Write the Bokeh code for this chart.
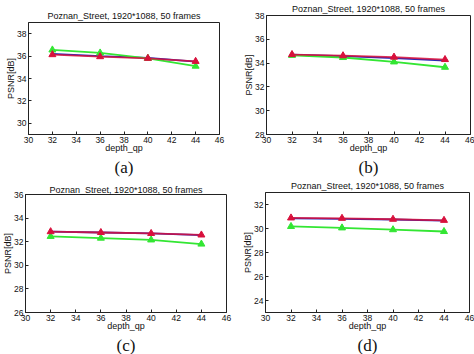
from bokeh.plotting import figure
from bokeh.layouts import column, row
from bokeh.models import FixedTicker, Range1d, Title
from bokeh.embed import file_html
from bokeh.resources import INLINE

depth_qp = [32, 36, 40, 44]
x_ticks = [30, 32, 34, 36, 38, 40, 42, 44, 46]

# panel (a)
a_blue = [36.2, 36.0, 35.85, 35.5]
a_red = [36.13, 35.95, 35.8, 35.53]
a_green = [36.55, 36.28, 35.8, 35.1]
# panel (b)
b_blue = [34.7, 34.58, 34.42, 34.2]
b_red = [34.72, 34.62, 34.5, 34.3]
b_green = [34.65, 34.47, 34.1, 33.65]
# panel (c)
c_blue = [32.85, 32.78, 32.7, 32.55]
c_red = [32.85, 32.78, 32.7, 32.57]
c_green = [32.45, 32.3, 32.15, 31.8]
# panel (d)
d_blue = [30.85, 30.8, 30.75, 30.65]
d_red = [30.88, 30.85, 30.77, 30.68]
d_green = [30.17, 30.05, 29.9, 29.75]

title_text = "Poznan_Street, 1920*1088, 50 frames"
panel_labels = ["(a)", "(b)", "(c)", "(d)"]
y_ranges = [(29, 39), (28, 38), (26, 36), (23, 33)]
y_tick_sets = [[30, 32, 34, 36, 38], [28, 30, 32, 34, 36, 38],
               [26, 28, 30, 32, 34, 36], [24, 26, 28, 30, 32]]
series = [(a_blue, a_red, a_green), (b_blue, b_red, b_green),
          (c_blue, c_red, c_green), (d_blue, d_red, d_green)]
borders = [(28, 18, 22, 43), (29, 4, 13, 43), (22, 11, 17, 40), (28, 5, 15, 40)]
title_gaps = [3, 3, 0, 3]

BLUE = "#2828b8"
RED = "#d8103c"
GREEN = "#33e633"
FONT = "Liberation Sans"
INK = "#111111"


def make_panel(i):
    left, right, top, bottom = borders[i]
    p = figure(width=237, height=177, output_backend="svg", toolbar_location=None,
               x_range=Range1d(30, 46), y_range=Range1d(*y_ranges[i]),
               min_border_left=left, min_border_right=right,
               min_border_top=top, min_border_bottom=bottom)
    p.title.text = title_text
    p.title.align = "center"
    p.title.text_font = FONT
    p.title.text_font_size = "9px"
    p.title.text_font_style = "normal"
    p.title.text_color = INK
    p.title.standoff = title_gaps[i]
    p.title.offset = 0
    p.add_layout(Title(text=panel_labels[i], align="center", text_font="Liberation Serif",
                       text_font_size="17px", text_font_style="normal", text_color=INK,
                       standoff=0), "below")
    p.xgrid.visible = False
    p.ygrid.visible = False
    p.outline_line_color = "#222222"
    p.outline_line_width = 1
    p.background_fill_color = "white"
    p.border_fill_color = "white"
    p.xaxis.ticker = FixedTicker(ticks=x_ticks)
    p.yaxis.ticker = FixedTicker(ticks=y_tick_sets[i])
    for ax in (p.xaxis[0], p.yaxis[0]):
        ax.major_tick_in = 3
        ax.major_tick_out = 0
        ax.minor_tick_in = 0
        ax.minor_tick_out = 0
        ax.major_label_text_font = FONT
        ax.major_label_text_font_size = "8.5px"
        ax.major_label_text_color = INK
        ax.major_label_standoff = 2
        ax.axis_label_text_font = FONT
        ax.axis_label_text_font_size = "9px"
        ax.axis_label_text_font_style = "normal"
        ax.axis_label_text_color = INK
        ax.axis_line_color = "#222222"
        ax.major_tick_line_color = "#222222"
    p.xaxis.axis_label_standoff = -3
    p.yaxis.axis_label_standoff = -2
    p.xaxis.axis_label = "depth_qp"
    p.yaxis.axis_label = "PSNR[dB]"

    blue, red, green = series[i]
    p.line(depth_qp, blue, line_color=BLUE, line_width=1.8)
    p.line(depth_qp, green, line_color=GREEN, line_width=1.8)
    p.scatter(depth_qp, green, marker="triangle", size=7, fill_color=GREEN, line_color=GREEN)
    p.line(depth_qp, red, line_color=RED, line_width=1.8, line_alpha=0.85)
    p.scatter(depth_qp, red, marker="triangle", size=7, fill_color=RED, line_color=RED)
    return p


panels = [column(make_panel(i), spacing=0) for i in range(4)]
layout = column(row(panels[0], panels[1], spacing=0), row(panels[2], panels[3], spacing=0), spacing=0)
open("out.html", "w").write(file_html(layout, INLINE))
